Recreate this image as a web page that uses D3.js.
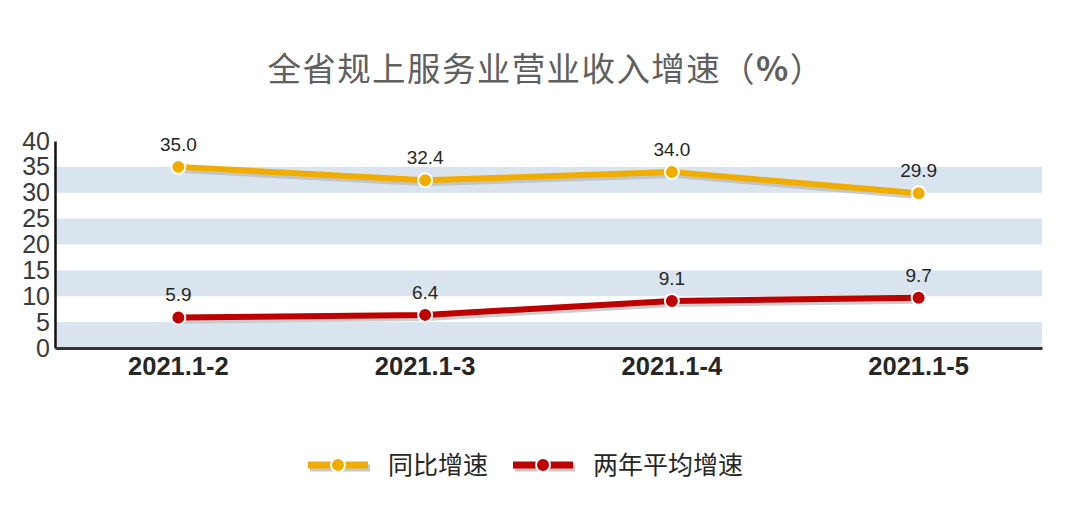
<!DOCTYPE html>
<html>
<head>
<meta charset="utf-8">
<script src="https://cdn.jsdelivr.net/npm/d3@7"></script>
<style>
  body { margin: 0; background: #fff; }
  svg { display: block; font-family: "Liberation Sans", Arial, sans-serif; }
</style>
</head>
<body>
<svg id="chart" width="1080" height="506"></svg>
<script>
const categories = ["2021.1-2", "2021.1-3", "2021.1-4", "2021.1-5"];
const yoy = [35.0, 32.4, 34.0, 29.9];
const twoYear = [5.9, 6.4, 9.1, 9.7];
const yTicks = [0, 5, 10, 15, 20, 25, 30, 35, 40];
const seriesNames = ["同比增速", "两年平均增速"];
const colors = ["#f0ad00", "#c00000"];

const svg = d3.select("#chart");
const plotLeft = 55, plotRight = 1042, plotTop = 141, plotBottom = 348;

const x = d3.scaleBand().domain(categories).range([plotLeft, plotRight]);
const y = d3.scaleLinear().domain([0, 40]).range([plotBottom, plotTop]);

// title
const title = svg.append("text")
  .attr("x", 546).attr("y", 81)
  .attr("text-anchor", "middle")
  .attr("fill", "#606060")
  .style("font-family", "'Noto Sans CJK SC', sans-serif")
  .style("font-size", "33.5px")
  .style("letter-spacing", "1.4px");
title.append("tspan").text("全省规上服务业营业收入增速（");
title.append("tspan").style("font-weight", "bold").text("%");
title.append("tspan").text("）");

// shaded bands
const bands = [[0, 5], [10, 15], [20, 25], [30, 35]];
svg.append("g").selectAll("rect")
  .data(bands)
  .join("rect")
  .attr("x", plotLeft)
  .attr("y", d => y(d[1]))
  .attr("width", plotRight - plotLeft)
  .attr("height", d => y(d[0]) - y(d[1]))
  .attr("fill", "#dae4ef");

// y axis
const yAxis = svg.append("g")
  .attr("transform", `translate(${plotLeft},0)`)
  .call(d3.axisLeft(y).tickValues(yTicks).tickSize(0).tickPadding(5));
yAxis.select(".domain").attr("stroke", "#111").attr("stroke-width", 2.5);
yAxis.selectAll("text")
  .attr("fill", "#3a3a3a")
  .style("font-size", "25px")
  .style("font-family", "'Liberation Sans', Arial, sans-serif");

// x axis
const xAxis = svg.append("g")
  .attr("transform", `translate(0,${plotBottom})`)
  .call(d3.axisBottom(x).tickSize(0).tickPadding(9).tickSizeOuter(0));
xAxis.select(".domain").attr("stroke", "#333").attr("stroke-width", 3);
xAxis.selectAll("text")
  .attr("fill", "#262626")
  .style("font-size", "25.5px")
  .style("font-weight", "bold")
  .style("font-family", "'Liberation Sans', Arial, sans-serif");

const cx = d => x(d) + x.bandwidth() / 2;
const series = [yoy, twoYear];
const line = d3.line().x((d, i) => cx(categories[i])).y(d => y(d));

series.forEach((vals, s) => {
  const g = svg.append("g");
  // shadow
  g.append("path")
    .datum(vals)
    .attr("d", line)
    .attr("transform", "translate(2,3)")
    .attr("fill", "none")
    .attr("stroke", "#b8b8b8")
    .attr("stroke-width", 6)
    .attr("opacity", 0.7);
  g.append("path")
    .datum(vals)
    .attr("d", line)
    .attr("fill", "none")
    .attr("stroke", colors[s])
    .attr("stroke-width", 6);
  g.selectAll("circle")
    .data(vals)
    .join("circle")
    .attr("cx", (d, i) => cx(categories[i]))
    .attr("cy", d => y(d))
    .attr("r", 7)
    .attr("fill", colors[s])
    .attr("stroke", "#fff")
    .attr("stroke-width", 2);
  g.selectAll("text")
    .data(vals)
    .join("text")
    .attr("x", (d, i) => cx(categories[i]))
    .attr("y", d => y(d) - 16)
    .attr("text-anchor", "middle")
    .attr("fill", "#262626")
    .style("font-size", "19px")
    .text(d => d.toFixed(1));
});

// legend
const legendY = 465;
const legendItems = [{ x: 308, tx: 388 }, { x: 513, tx: 593 }];
legendItems.forEach((it, s) => {
  const g = svg.append("g");
  g.append("line")
    .attr("x1", it.x + 2).attr("x2", it.x + 62)
    .attr("y1", legendY + 3).attr("y2", legendY + 3)
    .attr("stroke", "#c8c8c8").attr("stroke-width", 7);
  g.append("line")
    .attr("x1", it.x).attr("x2", it.x + 60)
    .attr("y1", legendY).attr("y2", legendY)
    .attr("stroke", colors[s]).attr("stroke-width", 7);
  g.append("circle")
    .attr("cx", it.x + 30).attr("cy", legendY)
    .attr("r", 7)
    .attr("fill", colors[s])
    .attr("stroke", "#fff").attr("stroke-width", 2);
  g.append("text")
    .attr("x", it.tx).attr("y", legendY + 9)
    .attr("fill", "#262626")
    .style("font-family", "'Noto Sans CJK SC', sans-serif")
    .style("font-size", "25px")
    .text(seriesNames[s]);
});
</script>
</body>
</html>
